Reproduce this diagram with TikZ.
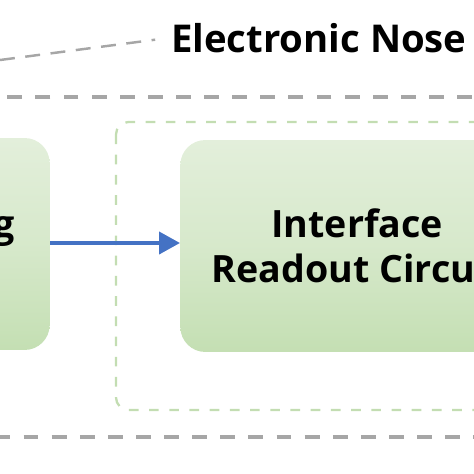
\documentclass[tikz,border=0pt]{standalone}
\usepackage{fontspec}
\setmainfont{Open Sans}
\usetikzlibrary{positioning, arrows.meta}

\definecolor{boxtop}{HTML}{E3EFDB}
\definecolor{boxbot}{HTML}{C4DFB3}
\definecolor{framegray}{HTML}{A6A6A6}
\definecolor{framegreen}{HTML}{C3DDB2}
\definecolor{arrowblue}{HTML}{4472C4}

\begin{document}
\begin{tikzpicture}[
        x=0.02cm, y=-0.02cm,
        font=\bfseries\fontsize{21.4}{25.5}\selectfont,
        block/.style={
            rounded corners=0.5cm,
            top color=boxtop,
            bottom color=boxbot,
            middle color=boxtop!60!boxbot,
            shading angle=0,
            minimum height=4.24cm,
            align=center,
            inner sep=0pt
        },
        grayframe/.style={
            draw=framegray,
            line width=1.8pt,
            dash pattern=on 8.5pt off 7.5pt
        },
        greenframe/.style={
            draw=framegreen,
            line width=1.3pt,
            dash pattern=on 5.5pt off 6pt,
            rounded corners=0.25cm
        }
    ]
    \useasboundingbox (0,0) rectangle (474,474);
    \clip (0,0) rectangle (474,474);

    % --- FRAMES ---
    \draw[grayframe] (-30,97) rectangle (640,437);
    \draw[greenframe] (116,122) rectangle (640,410);

    % --- TITLE ---
    \node[anchor=base east, inner sep=0pt, font=\bfseries\fontsize{21.8}{26}\selectfont] (title) at (467,52) {Electronic Nose};
    \coordinate (lead) at (0,60);
    \draw[framegray, line width=1.4pt, dash pattern=on 8.5pt off 6pt, shorten >=9pt] (lead) -- (title.west);

    % --- BLOCKS ---
    \node[block, minimum width=4cm, anchor=east] (sensing) at (50,244) {};
    \node[anchor=base east, inner sep=0pt] (sensetext) at (15,237) {g};

    \node[block, minimum width=7.08cm, anchor=west] (readout) at (180,246) {Interface\\Readout Circuit};

    % --- ARROW ---
    \draw[arrowblue, line width=2.3pt, -{Triangle[length=0.42cm, width=0.44cm]}] (sensing.east |- 0,243) -- (readout.west |- 0,243);

\end{tikzpicture}
\end{document}
